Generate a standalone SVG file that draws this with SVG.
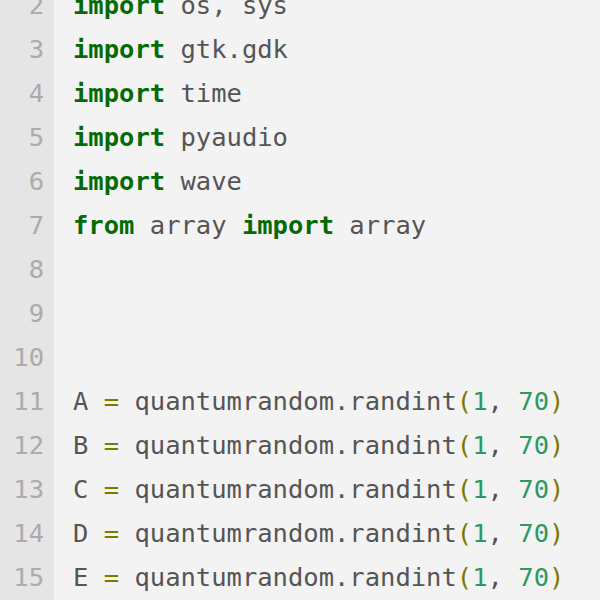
<svg xmlns="http://www.w3.org/2000/svg" width="600" height="600" viewBox="0 0 600 600">
<style>
text{font-family:"DejaVu Sans Mono","Liberation Mono",monospace;font-size:25.5px;fill:#555}
.n{fill:#ababab;text-anchor:end}
.k{fill:#046a04;font-weight:bold}
.o{fill:#7a7a00}
.d{fill:#2a9a60}
</style>
<rect width="600" height="600" fill="#f3f3f3"/>
<rect width="54" height="600" fill="#e5e5e5"/>
<g id="gutter">
<text class="n" x="44" y="14">2</text>
<text class="n" x="44" y="58">3</text>
<text class="n" x="44" y="102">4</text>
<text class="n" x="44" y="146">5</text>
<text class="n" x="44" y="190">6</text>
<text class="n" x="44" y="234">7</text>
<text class="n" x="44" y="278">8</text>
<text class="n" x="44" y="322">9</text>
<text class="n" x="44" y="366">10</text>
<text class="n" x="44" y="410">11</text>
<text class="n" x="44" y="454">12</text>
<text class="n" x="44" y="498">13</text>
<text class="n" x="44" y="542">14</text>
<text class="n" x="44" y="586">15</text>
</g>
<g id="code" xml:space="preserve">
<text x="73" y="14"><tspan class="k">import</tspan> os, sys</text>
<text x="73" y="58"><tspan class="k">import</tspan> gtk.gdk</text>
<text x="73" y="102"><tspan class="k">import</tspan> time</text>
<text x="73" y="146"><tspan class="k">import</tspan> pyaudio</text>
<text x="73" y="190"><tspan class="k">import</tspan> wave</text>
<text x="73" y="234"><tspan class="k">from</tspan> array <tspan class="k">import</tspan> array</text>
<text x="73" y="410">A <tspan class="o">=</tspan> quantumrandom.randint<tspan class="o">(</tspan><tspan class="d">1</tspan>, <tspan class="d">70</tspan><tspan class="o">)</tspan></text>
<text x="73" y="454">B <tspan class="o">=</tspan> quantumrandom.randint<tspan class="o">(</tspan><tspan class="d">1</tspan>, <tspan class="d">70</tspan><tspan class="o">)</tspan></text>
<text x="73" y="498">C <tspan class="o">=</tspan> quantumrandom.randint<tspan class="o">(</tspan><tspan class="d">1</tspan>, <tspan class="d">70</tspan><tspan class="o">)</tspan></text>
<text x="73" y="542">D <tspan class="o">=</tspan> quantumrandom.randint<tspan class="o">(</tspan><tspan class="d">1</tspan>, <tspan class="d">70</tspan><tspan class="o">)</tspan></text>
<text x="73" y="586">E <tspan class="o">=</tspan> quantumrandom.randint<tspan class="o">(</tspan><tspan class="d">1</tspan>, <tspan class="d">70</tspan><tspan class="o">)</tspan></text>
</g>
</svg>
